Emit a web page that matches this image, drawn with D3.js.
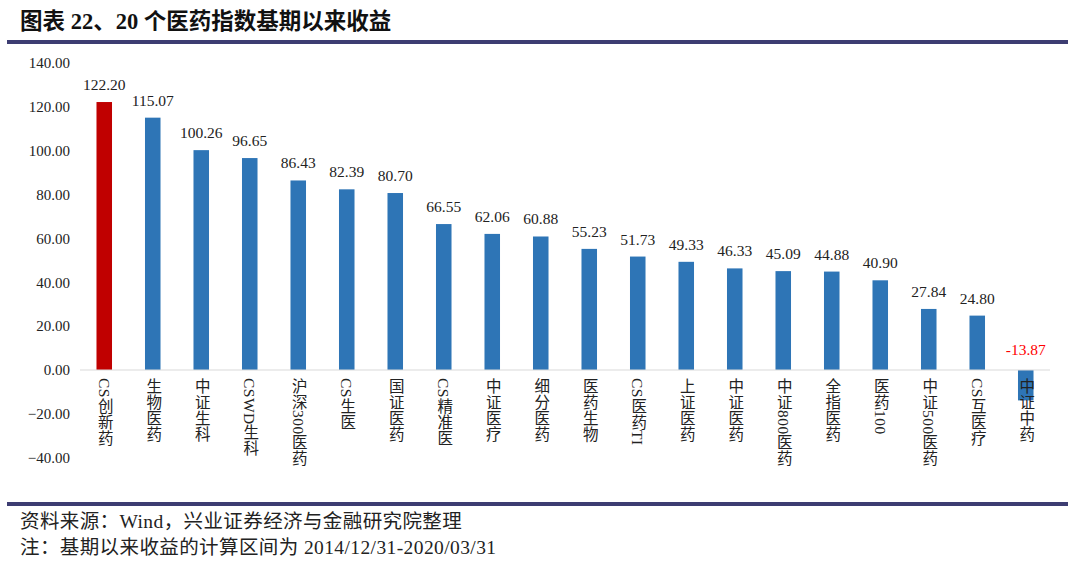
<!DOCTYPE html>
<html>
<head>
<meta charset="utf-8">
<script src="https://cdn.jsdelivr.net/npm/d3@7"></script>
<style>
  body { margin: 0; background: #fff; }
  text { font-family: "Liberation Serif", "Noto Sans CJK SC", serif; }
</style>
</head>
<body>
<svg id="chart"></svg>
<script>
const categories = ["CS创新药", "生物医药", "中证生科", "CSWD生科", "沪深300医药", "CS生医", "国证医药",
  "CS精准医", "中证医疗", "细分医药", "医药生物", "CS医药TI", "上证医药", "中证医药", "中证800医药",
  "全指医药", "医药100", "中证500医药", "CS互医疗", "中证中药"];
const values = [122.20, 115.07, 100.26, 96.65, 86.43, 82.39, 80.70, 66.55, 62.06, 60.88, 55.23, 51.73,
  49.33, 46.33, 45.09, 44.88, 40.90, 27.84, 24.80, -13.87];
const yTicks = [-40, -20, 0, 20, 40, 60, 80, 100, 120, 140];

const w = 1080;
const h = 561;

const svg = d3.select("#chart")
  .attr("width", w)
  .attr("height", h);

// title + rules
svg.append("text")
  .attr("x", 20)
  .attr("y", 29)
  .attr("font-size", 22.5)
  .attr("font-weight", "bold")
  .attr("fill", "#111")
  .text("图表 22、20 个医药指数基期以来收益");

svg.append("rect").attr("x", 7).attr("y", 40).attr("width", 1061).attr("height", 4).attr("fill", "#3d3d72");
svg.append("rect").attr("x", 7).attr("y", 502).attr("width", 1061).attr("height", 4).attr("fill", "#3d3d72");

const xScale = d3.scaleBand()
  .domain(categories)
  .range([80, 1050])
  .paddingInner(0.68)
  .paddingOuter(0.34);

const yScale = d3.scaleLinear()
  .domain([-40, 140])
  .range([457.7, 63]);

// y axis labels
const yAxis = d3.axisLeft(yScale)
  .tickValues(yTicks)
  .tickFormat(d3.format(".2f"))
  .tickSize(0)
  .tickPadding(0);
const gy = svg.append("g")
  .attr("transform", "translate(70,0)")
  .call(yAxis);
gy.select(".domain").remove();
gy.selectAll("text")
  .attr("font-size", 15)
  .attr("fill", "#222")
  .style("font-family", "Liberation Serif, serif");

// bars
svg.selectAll(".bar")
  .data(values)
  .enter()
  .append("rect")
  .attr("class", "bar")
  .attr("x", (d, i) => xScale(categories[i]))
  .attr("width", xScale.bandwidth())
  .attr("y", (d) => yScale(Math.max(0, d)))
  .attr("height", (d) => Math.abs(yScale(d) - yScale(0)))
  .attr("fill", (d, i) => i === 0 ? "#c00000" : "#2e75b6");

// zero line
svg.append("line")
  .attr("x1", 80).attr("x2", 1050)
  .attr("y1", yScale(0)).attr("y2", yScale(0))
  .attr("stroke", "#d9d9d9")
  .attr("stroke-width", 1.2);

// value labels
svg.selectAll(".val")
  .data(values)
  .enter()
  .append("text")
  .attr("class", "val")
  .attr("x", (d, i) => xScale(categories[i]) + xScale.bandwidth() / 2)
  .attr("y", (d) => yScale(Math.max(0, d)) - (d < 0 ? 15 : 12))
  .attr("text-anchor", "middle")
  .attr("font-size", 15.5)
  .attr("fill", (d) => d < 0 ? "#ff0000" : "#222")
  .text((d) => d.toFixed(2));

// category labels, vertical
svg.selectAll(".cat")
  .data(categories)
  .enter()
  .append("text")
  .attr("class", "cat")
  .attr("x", (d) => xScale(d) + xScale.bandwidth() / 2)
  .attr("y", 378)
  .attr("font-size", 15.5)
  .attr("fill", "#222")
  .style("writing-mode", "vertical-rl")
  .style("letter-spacing", "0.5px")
  .text((d) => d);

// footnotes
svg.append("text")
  .attr("x", 20).attr("y", 528)
  .attr("font-size", 19.5)
  .attr("fill", "#222")
  .style("letter-spacing", "0.4px")
  .text("资料来源：Wind，兴业证券经济与金融研究院整理");
svg.append("text")
  .attr("x", 20).attr("y", 554)
  .attr("font-size", 19.5)
  .attr("fill", "#222")
  .style("letter-spacing", "0.4px")
  .text("注：基期以来收益的计算区间为 2014/12/31-2020/03/31");
</script>
</body>
</html>
